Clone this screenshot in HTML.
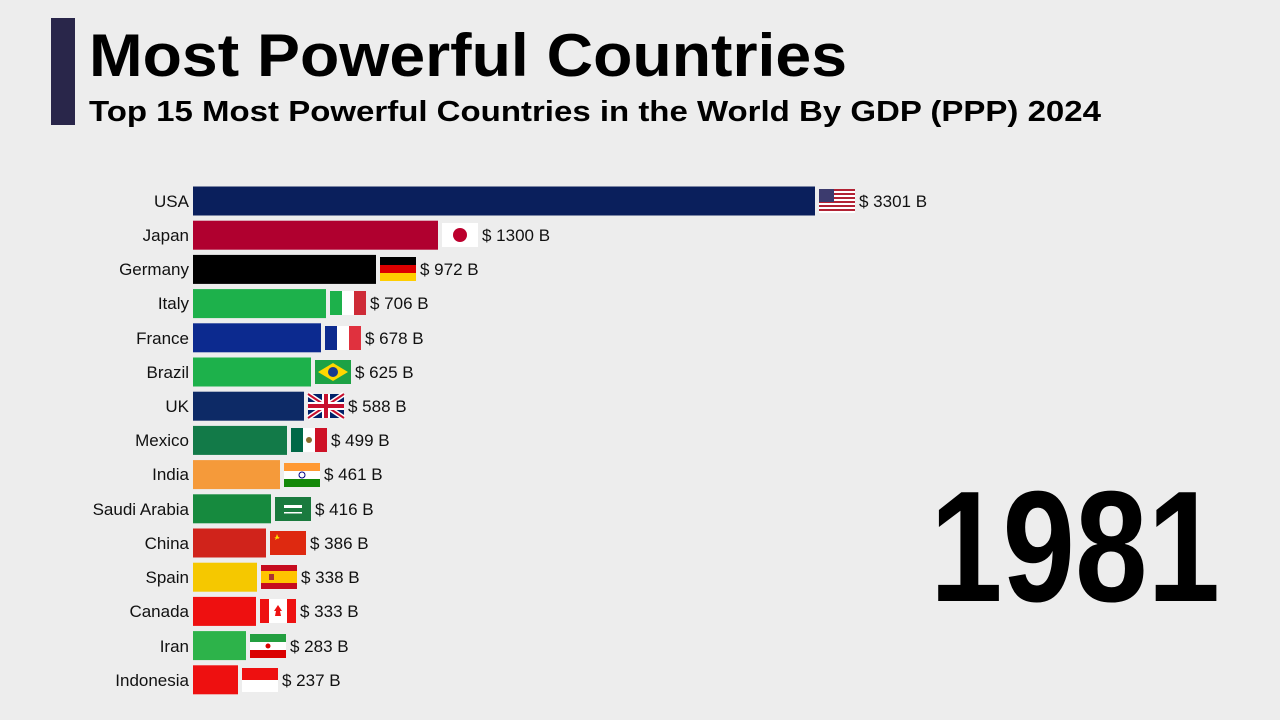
<!DOCTYPE html>
<html><head><meta charset="utf-8"><style>
html,body{margin:0;padding:0;background:#ededed;}
svg{display:block}
.t{font-family:"Liberation Sans",sans-serif;font-weight:bold;fill:#000}
.n{font-family:"Liberation Sans Narrow","Liberation Sans",sans-serif;font-size:17px;fill:#111}
</style></head><body>
<svg width="1280" height="720" viewBox="0 0 1280 720" xmlns="http://www.w3.org/2000/svg">
<rect width="1280" height="720" fill="#ededed"/>
<rect x="51" y="18" width="24" height="107" fill="#29264a"/>
<text class="t" x="89" y="76" font-size="60" textLength="758" lengthAdjust="spacingAndGlyphs">Most Powerful Countries</text>
<text class="t" x="89" y="121" font-size="29" textLength="1012" lengthAdjust="spacingAndGlyphs">Top 15 Most Powerful Countries in the World By GDP (PPP) 2024</text>
<text x="930" y="601" font-family="'Liberation Sans Narrow','Liberation Sans',sans-serif" font-weight="bold" font-size="158" textLength="290" lengthAdjust="spacingAndGlyphs" fill="#000">1981</text>

<g class="n" text-anchor="end">
<text x="189" y="207">USA</text>
<text x="189" y="241">Japan</text>
<text x="189" y="275">Germany</text>
<text x="189" y="309">Italy</text>
<text x="189" y="344">France</text>
<text x="189" y="378">Brazil</text>
<text x="189" y="412">UK</text>
<text x="189" y="446">Mexico</text>
<text x="189" y="480">India</text>
<text x="189" y="515">Saudi Arabia</text>
<text x="189" y="549">China</text>
<text x="189" y="583">Spain</text>
<text x="189" y="617">Canada</text>
<text x="189" y="652">Iran</text>
<text x="189" y="686">Indonesia</text>
</g>

<!-- bars -->
<rect x="193" y="186.5" width="622" height="29" fill="#0a1f5c"/>
<rect x="193" y="220.7" width="245" height="29" fill="#b0002f"/>
<rect x="193" y="254.9" width="183" height="29" fill="#000"/>
<rect x="193" y="289.1" width="133" height="29" fill="#1db14b"/>
<rect x="193" y="323.3" width="128" height="29" fill="#0c2a8f"/>
<rect x="193" y="357.5" width="118" height="29" fill="#1db14b"/>
<rect x="193" y="391.7" width="111" height="29" fill="#0d2a66"/>
<rect x="193" y="425.9" width="94" height="29" fill="#127a48"/>
<rect x="193" y="460.1" width="87" height="29" fill="#f59a3a"/>
<rect x="193" y="494.3" width="78" height="29" fill="#168a3e"/>
<rect x="193" y="528.5" width="73" height="29" fill="#d0231b"/>
<rect x="193" y="562.7" width="64" height="29" fill="#f5c800"/>
<rect x="193" y="596.9" width="63" height="29" fill="#ee1010"/>
<rect x="193" y="631.1" width="53" height="29" fill="#2db34a"/>
<rect x="193" y="665.3" width="45" height="29" fill="#ee1010"/>

<!-- flags -->
<g transform="translate(819,189)"><rect width="36" height="24" fill="#fff"/><g fill="#b22234"><rect y="0" width="36" height="2"/><rect y="4" width="36" height="2"/><rect y="8" width="36" height="2"/><rect y="12" width="36" height="2"/><rect y="16" width="36" height="2"/><rect y="20" width="36" height="2"/></g><rect width="15" height="13" fill="#3c3b6e"/></g>
<g transform="translate(442,223)"><rect width="36" height="24" fill="#fff"/><circle cx="18" cy="12" r="7" fill="#bc002d"/></g>
<g transform="translate(380,257)"><rect width="36" height="8" fill="#000"/><rect y="8" width="36" height="8" fill="#dd0000"/><rect y="16" width="36" height="8" fill="#ffce00"/></g>
<g transform="translate(330,291)"><rect width="12" height="24" fill="#1db14b"/><rect x="12" width="12" height="24" fill="#fff"/><rect x="24" width="12" height="24" fill="#ce2b37"/></g>
<g transform="translate(325,326)"><rect width="12" height="24" fill="#0c2a8f"/><rect x="12" width="12" height="24" fill="#fff"/><rect x="24" width="12" height="24" fill="#e0313e"/></g>
<g transform="translate(315,360)"><rect width="36" height="24" fill="#1da245"/><polygon points="18,3 33,12 18,21 3,12" fill="#ffd700"/><circle cx="18" cy="12" r="5" fill="#1a3a8f"/></g>
<g transform="translate(308,394)"><rect width="36" height="24" fill="#012169"/><path d="M0,0L36,24M36,0L0,24" stroke="#fff" stroke-width="5"/><path d="M0,0L36,24M36,0L0,24" stroke="#c8102e" stroke-width="2"/><rect x="14" width="8" height="24" fill="#fff"/><rect y="8" width="36" height="8" fill="#fff"/><rect x="16" width="4" height="24" fill="#c8102e"/><rect y="10" width="36" height="4" fill="#c8102e"/></g>
<g transform="translate(291,428)"><rect width="12" height="24" fill="#006847"/><rect x="12" width="12" height="24" fill="#fff"/><rect x="24" width="12" height="24" fill="#ce1126"/><circle cx="18" cy="12" r="3" fill="#8a6a2a"/></g>
<g transform="translate(284,463)"><rect width="36" height="8" fill="#ff9933"/><rect y="8" width="36" height="8" fill="#fff"/><rect y="16" width="36" height="8" fill="#138808"/><circle cx="18" cy="12" r="3" fill="none" stroke="#000080"/></g>
<g transform="translate(275,497)"><rect width="36" height="24" fill="#1a7a3e"/><rect x="9" y="8" width="18" height="3" fill="#fff"/><rect x="9" y="15" width="18" height="1.5" fill="#fff"/></g>
<g transform="translate(270,531)"><rect width="36" height="24" fill="#de2910"/><polygon points="7,3 9,8 4,6 10,6 5,9" fill="#ffde00"/></g>
<g transform="translate(261,565)"><rect width="36" height="6" fill="#c60b1e"/><rect y="6" width="36" height="12" fill="#ffc400"/><rect y="18" width="36" height="6" fill="#c60b1e"/><rect x="8" y="9" width="5" height="6" fill="#a33"/></g>
<g transform="translate(260,599)"><rect width="36" height="24" fill="#fff"/><rect width="9" height="24" fill="#e11"/><rect x="27" width="9" height="24" fill="#e11"/><polygon points="18,6 22,12 20,12 21,17 15,17 16,12 14,12" fill="#e11"/></g>
<g transform="translate(250,634)"><rect width="36" height="8" fill="#239f40"/><rect y="8" width="36" height="8" fill="#fff"/><rect y="16" width="36" height="8" fill="#da0000"/><circle cx="18" cy="12" r="2.5" fill="#da0000"/></g>
<g transform="translate(242,668)"><rect width="36" height="12" fill="#ee1010"/><rect y="12" width="36" height="12" fill="#fff"/></g>

<g class="n">
<text x="859" y="207">$ 3301 B</text>
<text x="482" y="241">$ 1300 B</text>
<text x="420" y="275">$ 972 B</text>
<text x="370" y="309">$ 706 B</text>
<text x="365" y="344">$ 678 B</text>
<text x="355" y="378">$ 625 B</text>
<text x="348" y="412">$ 588 B</text>
<text x="331" y="446">$ 499 B</text>
<text x="324" y="480">$ 461 B</text>
<text x="315" y="515">$ 416 B</text>
<text x="310" y="549">$ 386 B</text>
<text x="301" y="583">$ 338 B</text>
<text x="300" y="617">$ 333 B</text>
<text x="290" y="652">$ 283 B</text>
<text x="282" y="686">$ 237 B</text>
</g>
</svg>
</body></html>
